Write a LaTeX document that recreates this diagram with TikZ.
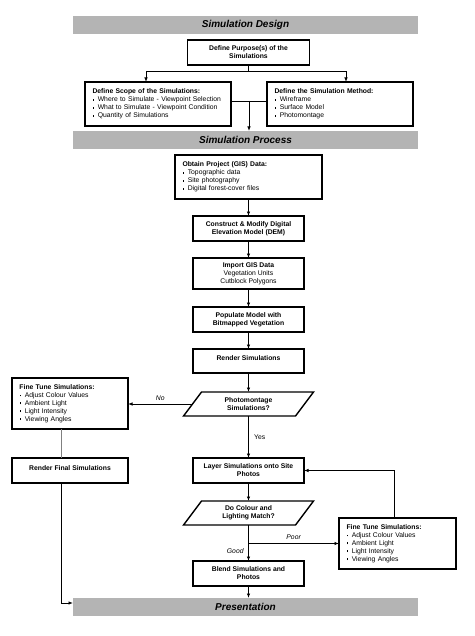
\documentclass[tikz,border=0pt]{standalone}
\usepackage{fontspec}
\setmainfont{Liberation Sans}
\usetikzlibrary{positioning,arrows.meta,calc}
\definecolor{bannergray}{RGB}{180,180,180}
\newcommand{\sqbullet}{\rule[1pt]{1.8pt}{1.8pt}\hspace{3.5pt}}

\begin{document}
\begin{tikzpicture}[x=1pt,y=-1pt,
  banner/.style={fill=bannergray,minimum width=345pt,minimum height=18pt,inner sep=0pt,outer sep=0pt,
    font=\fontsize{10}{12}\selectfont\bfseries\itshape},
  box/.style={draw,line width=1.4pt,minimum width=111pt,minimum height=25pt,inner sep=1pt,outer sep=0pt,
    align=center,font=\fontsize{6.8}{7.9}\selectfont\bfseries},
  listbox/.style={box,align=left,inner xsep=7.5pt,font=\fontsize{6.8}{7.9}\selectfont},
  onerow/.style={text depth=5pt},
  ask/.style={minimum width=112pt,minimum height=24pt,inner sep=0pt,outer sep=0pt,align=center,
    font=\fontsize{6.8}{7.9}\selectfont\bfseries},
  line/.style={line width=0.8pt},
  arrow/.style={line,-{Latex[length=4.5pt,width=3.5pt]}},
  thinline/.style={line width=0.6pt,gray},
  lab/.style={font=\fontsize{6.8}{7.9}\selectfont}]
  \useasboundingbox (0,0) rectangle (474,636);

  \node[banner] (design) at (245.5,25) {Simulation Design};
  \node[box,minimum width=122pt] (purpose) [below=6pt of design,xshift=3pt] {Define Purpose(s) of the\\Simulations};
  \node[listbox,text width=131pt,minimum height=44pt] (scope) at (158,104)
    {\textbf{Define Scope of the Simulations:}\\
     \sqbullet Where to Simulate - Viewpoint Selection\\
     \sqbullet What to Simulate - Viewpoint Condition\\
     \sqbullet Quantity of Simulations};
  \node[listbox,text width=131pt,minimum height=44pt] (method) at (340,104)
    {\textbf{Define the Simulation Method:}\\
     \sqbullet Wireframe\\
     \sqbullet Surface Model\\
     \sqbullet Photomontage};

  \node[banner] (process) at (245.5,140) {Simulation Process};
  \node[listbox,text width=132pt,minimum height=44pt] (obtain) [below=6pt of process,xshift=3pt]
    {\textbf{Obtain Project (GIS) Data:}\\
     \sqbullet Topographic data\\
     \sqbullet Site photography\\
     \sqbullet Digital forest-cover files};
  \node[box] (construct) [below=17pt of obtain] {Construct \& Modify Digital\\Elevation Model (DEM)};
  \node[box,minimum height=31pt] (import) [below=17pt of construct]
    {Import GIS Data\\{\mdseries Vegetation Units}\\{\mdseries Cutblock Polygons}};
  \node[box] (populate) [below=18pt of import] {Populate Model with\\Bitmapped Vegetation};
  \node[box,onerow,minimum height=24pt] (render) [below=17pt of populate] {Render Simulations};
  \node[ask] (photo) [below=19pt of render] {Photomontage\\Simulations?};
  \node[box] (layer) [below=42pt of photo] {Layer Simulations onto Site\\Photos};
  \node[ask] (match) [below=18pt of layer] {Do Colour and\\Lighting Match?};
  \node[box] (blend) [below=36pt of match] {Blend Simulations and\\Photos};
  \node[banner] (presentation) [below=12pt of blend,xshift=-3pt] {Presentation};

  \node[listbox,text width=101pt,minimum height=51pt] (tuneleft) at (70,403.5)
    {\textbf{Fine Tune Simulations:}\\
     \sqbullet Adjust Colour Values\\
     \sqbullet Ambient Light\\
     \sqbullet Light Intensity\\
     \sqbullet Viewing Angles};
  \node[box,onerow,minimum width=116pt] (final) at (70,470.5) {Render Final Simulations};
  \node[listbox,text width=102pt,minimum height=51pt] (tuneright) at (397.5,543.5)
    {\textbf{Fine Tune Simulations:}\\
     \sqbullet Adjust Colour Values\\
     \sqbullet Ambient Light\\
     \sqbullet Light Intensity\\
     \sqbullet Viewing Angles};

  \foreach \q in {photo,match}
    \draw[line width=1.4pt] ([xshift=9pt]\q.north west) -- ([xshift=9pt]\q.north east)
      -- ([xshift=-9pt]\q.south east) -- ([xshift=-9pt]\q.south west) -- cycle;

  \coordinate (fork) at ($(purpose.south)+(0,6)$);
  \draw[line] (purpose) -- (fork);
  \draw[arrow] (fork) -| ([xshift=-12pt]scope.north);
  \draw[arrow] (fork) -| ([xshift=6pt]method.north);
  \coordinate (join) at ($(scope.east)!.5!(method.west)+(0,-3)$);
  \draw[line] ([yshift=3pt]scope.east) -- ([yshift=3pt]method.west);
  \draw[arrow] (join) -- (join |- process.north);

  \draw[arrow] (obtain) -- (construct);
  \draw[arrow] (construct) -- (import);
  \draw[arrow] (import) -- (populate);
  \draw[arrow] (populate) -- (render);
  \draw[arrow] (render) -- (photo);
  \draw[arrow] (photo) -- node[lab,right=2pt] {Yes} (layer);
  \draw[arrow] (layer) -- (match);
  \draw[arrow] (match) -- node[lab,pos=.72,left=1pt] {\textit{Good}} (blend);
  \draw[arrow] (blend) -- (blend |- presentation.north);

  \draw[arrow] (photo.west) -- node[lab,above] {\textit{No}} (photo.west -| tuneleft.east);
  \draw[thinline] ([xshift=-9pt]tuneleft.south) -- ([xshift=-9pt]final.north);
  \draw[arrow] ([xshift=-9pt]final.south) |- ([yshift=4pt]presentation.west);

  \coordinate (poor) at (match.south |- tuneright.west);
  \draw[arrow] (poor) -- node[lab,above] {\textit{Poor}} (tuneright.west);
  \draw[arrow] ([xshift=-3.5pt]tuneright.north) |- (layer.east);
\end{tikzpicture}
\end{document}
